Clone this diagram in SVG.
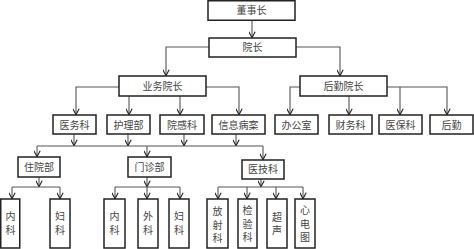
<svg xmlns="http://www.w3.org/2000/svg" width="474" height="249" viewBox="0 0 474 249">
<style>
.box{fill:#fff;stroke:#222;stroke-width:1.5}
.t{font-family:"Liberation Serif","Noto Sans CJK SC",serif;font-size:10px;fill:#444;text-anchor:middle}
.c{fill:none;stroke:#555;stroke-width:1.1}
</style>
<defs>
<marker id="ah" viewBox="0 -5 10 10" refX="10" refY="0" markerWidth="7" markerHeight="7" markerUnits="userSpaceOnUse" orient="auto">
<path d="M1,-4.5 L9.5,0 L1,4.5" fill="none" stroke="#222" stroke-width="1.6"/>
</marker>
</defs>
<rect width="474" height="249" fill="#fff"/>
<g id="connectors" class="c">
<path d="M252,20 V38" marker-end="url(#ah)"/>
<path d="M209,47 H166 V76" marker-end="url(#ah)"/>
<path d="M296,47 H340 V76" marker-end="url(#ah)"/>
<path d="M119,87 H76 V115" marker-end="url(#ah)"/>
<path d="M129,96 V115" marker-end="url(#ah)"/>
<path d="M180,96 V115" marker-end="url(#ah)"/>
<path d="M206,87 H239 V115" marker-end="url(#ah)"/>
<path d="M300,87 H290 V115" marker-end="url(#ah)"/>
<path d="M349,96 V115" marker-end="url(#ah)"/>
<path d="M387,87 H447 V115" marker-end="url(#ah)"/>
<path d="M400,87 V115" marker-end="url(#ah)"/>
<path d="M74,134 V146" marker-end="url(#ah)"/>
<path d="M128,134 V146" marker-end="url(#ah)"/>
<path d="M184,134 V146" marker-end="url(#ah)"/>
<path d="M236,134 V146" marker-end="url(#ah)"/>
<path d="M37,146 H263"/>
<path d="M37,146 V157" marker-end="url(#ah)"/>
<path d="M147,146 V157" marker-end="url(#ah)"/>
<path d="M263,146 V160" marker-end="url(#ah)"/>
<path d="M39,177 V187" marker-end="url(#ah)"/>
<path d="M12,187 H60"/>
<path d="M12,187 V199" marker-end="url(#ah)"/>
<path d="M60,187 V199" marker-end="url(#ah)"/>
<path d="M147,177 V187" marker-end="url(#ah)"/>
<path d="M115,187 H180"/>
<path d="M115,187 V199" marker-end="url(#ah)"/>
<path d="M147,187 V199" marker-end="url(#ah)"/>
<path d="M180,187 V199" marker-end="url(#ah)"/>
<path d="M261,179 V187" marker-end="url(#ah)"/>
<path d="M218,187 H303"/>
<path d="M218,187 V199" marker-end="url(#ah)"/>
<path d="M247,187 V199" marker-end="url(#ah)"/>
<path d="M276,187 V199" marker-end="url(#ah)"/>
<path d="M303,187 V199" marker-end="url(#ah)"/>
</g>
<g id="n-dongshizhang"><rect class="box" x="208" y="0.75" width="87" height="19.5"/><text class="t" x="251.5" y="14">董事长</text></g>
<g id="n-yuanzhang"><rect class="box" x="209" y="38" width="87" height="19"/><text class="t" x="252.5" y="51">院长</text></g>
<g id="n-yewu"><rect class="box" x="119" y="76" width="87" height="20"/><text class="t" x="162.5" y="89.5">业务院长</text></g>
<g id="n-houqinyz"><rect class="box" x="300" y="76" width="87" height="20"/><text class="t" x="343.5" y="89.5">后勤院长</text></g>
<g id="n-yiwu"><rect class="box" x="53" y="115" width="43" height="19"/><text class="t" x="74.5" y="128.5">医务科</text></g>
<g id="n-huli"><rect class="box" x="107" y="115" width="43" height="19"/><text class="t" x="128.5" y="128.5">护理部</text></g>
<g id="n-yuangan"><rect class="box" x="160" y="115" width="44" height="19"/><text class="t" x="182" y="128.5">院感科</text></g>
<g id="n-xinxi"><rect class="box" x="212" y="115" width="53" height="19"/><text class="t" x="238.5" y="128.5">信息病案</text></g>
<g id="n-bangong"><rect class="box" x="275" y="115" width="43" height="19"/><text class="t" x="296.5" y="128.5">办公室</text></g>
<g id="n-caiwu"><rect class="box" x="329" y="115" width="43" height="19"/><text class="t" x="350.5" y="128.5">财务科</text></g>
<g id="n-yibao"><rect class="box" x="379" y="115" width="43" height="19"/><text class="t" x="400.5" y="128.5">医保科</text></g>
<g id="n-houqin"><rect class="box" x="430" y="115" width="43" height="19"/><text class="t" x="451.5" y="128.5">后勤</text></g>
<g id="n-zhuyuan"><rect class="box" x="18" y="157" width="42" height="20"/><text class="t" x="39" y="170.5">住院部</text></g>
<g id="n-menzhen"><rect class="box" x="128" y="157" width="43" height="20"/><text class="t" x="149.5" y="170.5">门诊部</text></g>
<g id="n-yiji"><rect class="box" x="242" y="160" width="42" height="19"/><text class="t" x="263" y="173">医技科</text></g>
<g id="n-zy-neike"><rect class="box" x="0.75" y="199" width="19" height="49"/><text class="t" x="10.5" y="219.5">内</text><text class="t" x="10.5" y="234">科</text></g>
<g id="n-zy-fuke"><rect class="box" x="50" y="199" width="20" height="49"/><text class="t" x="60" y="219.5">妇</text><text class="t" x="60" y="234">科</text></g>
<g id="n-mz-neike"><rect class="box" x="104" y="199" width="21" height="49"/><text class="t" x="114.5" y="219.5">内</text><text class="t" x="114.5" y="234">科</text></g>
<g id="n-mz-waike"><rect class="box" x="138" y="199" width="20" height="49"/><text class="t" x="148" y="219.5">外</text><text class="t" x="148" y="234">科</text></g>
<g id="n-mz-fuke"><rect class="box" x="169" y="199" width="20" height="49"/><text class="t" x="179" y="219.5">妇</text><text class="t" x="179" y="234">科</text></g>
<g id="n-fangshe"><rect class="box" x="207" y="199" width="21" height="49"/><text class="t" x="217.5" y="215">放</text><text class="t" x="217.5" y="228.5">射</text><text class="t" x="217.5" y="242">科</text></g>
<g id="n-jianyan"><rect class="box" x="238" y="199" width="19" height="49"/><text class="t" x="247.5" y="214">检</text><text class="t" x="247.5" y="227.5">验</text><text class="t" x="247.5" y="241">科</text></g>
<g id="n-chaosheng"><rect class="box" x="267" y="199" width="20" height="49"/><text class="t" x="277" y="220.5">超</text><text class="t" x="277" y="234">声</text></g>
<g id="n-xindian"><rect class="box" x="295" y="199" width="20" height="49"/><text class="t" x="305" y="214">心</text><text class="t" x="305" y="227.5">电</text><text class="t" x="305" y="241">图</text></g>
</svg>
